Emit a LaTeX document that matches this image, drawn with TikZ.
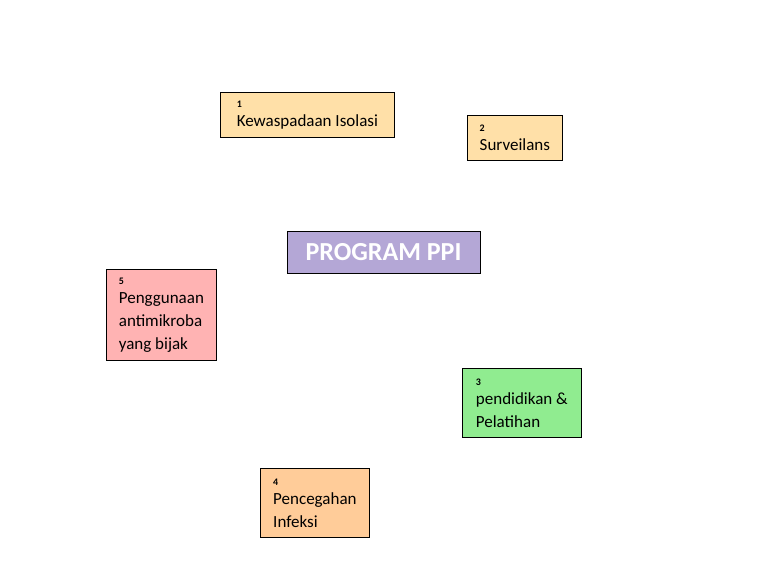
\documentclass[tikz,border=0pt]{standalone}
\usepackage{fontspec}
\setmainfont{Carlito}
\begin{document}
\begin{tikzpicture}[x=1pt,y=-1pt,
  box/.style={draw=black,line width=0.8pt,anchor=north west,inner xsep=6pt,inner ysep=3pt,align=left,font=\fontsize{17}{23}\selectfont},
  num/.style={font=\fontsize{10}{12}\selectfont\bfseries}]
\useasboundingbox (0,0) rectangle (768,576);
\node[box,fill={rgb,255:red,255;green,224;blue,168},minimum width=174pt,minimum height=45pt] (b1) at (220,92) {{\fontsize{10}{10}\selectfont\bfseries 1}\\[-4pt]Kewaspadaan Isolasi};
\node[box,fill={rgb,255:red,255;green,224;blue,168},minimum width=95pt,minimum height=45pt] (b2) at (467,115) {{\fontsize{10}{10}\selectfont\bfseries 2}\\[-4pt]Surveilans};
\node[draw=black,line width=0.8pt,fill={rgb,255:red,180;green,167;blue,214},minimum width=193pt,minimum height=42pt,text=white,font=\fontsize{26}{30}\selectfont\bfseries] (p) at (383.5,252) {PROGRAM PPI};
\node[box,fill={rgb,255:red,255;green,179;blue,179},minimum width=110pt,minimum height=91pt] (b5) at (106,269) {{\fontsize{10}{10}\selectfont\bfseries 5}\\[-4pt]Penggunaan\\antimikroba\\yang bijak};
\node[box,fill={rgb,255:red,144;green,236;blue,144},minimum width=119pt,minimum height=69pt] (b3) at (462,368) {{\fontsize{10}{10}\selectfont\bfseries 3}\\[-4pt]pendidikan \&\\Pelatihan};
\node[box,fill={rgb,255:red,255;green,204;blue,153},minimum width=109pt,minimum height=69pt] (b4) at (260,468) {{\fontsize{10}{10}\selectfont\bfseries 4}\\[-4pt]Pencegahan\\Infeksi};
\end{tikzpicture}
\end{document}
